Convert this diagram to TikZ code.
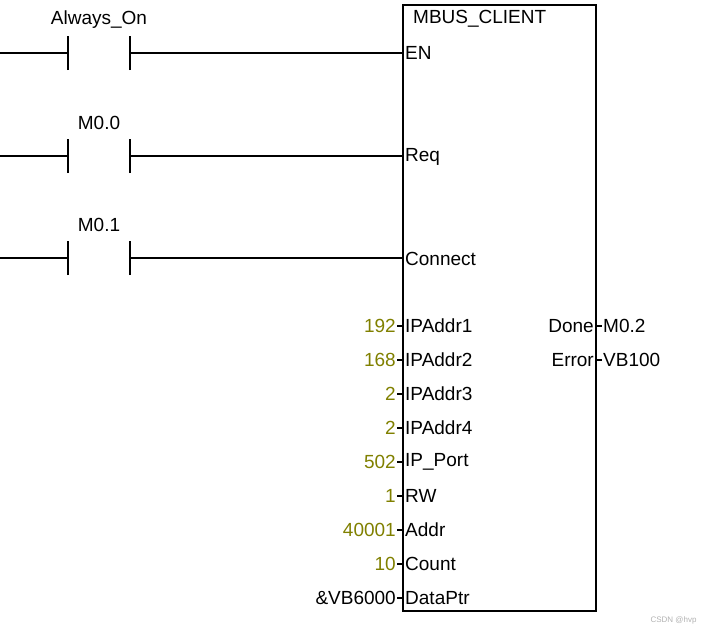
\documentclass[tikz,border=0pt]{standalone}
\usepackage{fontspec}
\setmainfont{Liberation Sans}
\definecolor{olive}{rgb}{0.5,0.5,0.0}
\tikzset{
  wire/.style={line width=1.5pt},
  pin/.style={font=\fontsize{19}{19}\selectfont, inner sep=1pt},
  val/.style={pin, text=olive, anchor=east},
  lbl/.style={font=\fontsize{19}{19}\selectfont, inner sep=0pt},
}
\begin{document}
\begin{tikzpicture}[x=1pt,y=-1pt]
  \useasboundingbox (0,0) rectangle (706,633);
  % block
  \draw [wire] (403,5) -- (596,5) -- (596,611) -- (403,611) -- cycle;
  \node [lbl, anchor=west] (title) at (413,19) {MBUS\_CLIENT};
  % contacts on the three rungs
  \foreach \y/\name/\txt in {53/en/Always\_On, 156/req/M0.0, 258/con/M0.1} {
    \coordinate (\name L) at (0,\y);
    \coordinate (\name A) at (68,\y);
    \coordinate (\name B) at (130,\y);
    \coordinate (\name R) at (403,\y);
    \draw [wire] (\name L) -- (\name A);
    \draw [wire] (\name B) -- (\name R);
    \draw [wire] ([yshift=-17]\name A) -- ([yshift=17]\name A);
    \draw [wire] ([yshift=-17]\name B) -- ([yshift=17]\name B);
    \node [lbl] at (99,\y-33) {\txt};
  }
  \node [pin, anchor=west] (pEN) at (404,53) {EN};
  \node [pin, anchor=west] (pReq) at (404,157) {Req};
  \node [pin, anchor=west] (pCon) at (404,259) {Connect};
  % input parameters
  \foreach \y/\v/\p [count=\i] in {326/192/IPAddr1, 360/168/IPAddr2, 394/2/IPAddr3,
      428/2/IPAddr4, 462/502/IP\_Port, 496/1/RW, 530/40001/Addr, 564/10/Count} {
    \coordinate (s\i) at (397,\y);
    \draw [wire] (s\i) -- (403,\y);
    \node [pin, anchor=west] (in\i) at (404,\y) {\p};
    \node [val] (v\i) at (s\i) {\v};
  }
  \coordinate (s9) at (397,598);
  \draw [wire] (s9) -- (403,598);
  \node [pin, anchor=west] (in9) at (404,598) {DataPtr};
  \node [pin, anchor=east] (v9) at (s9) {\&VB6000};
  % outputs
  \foreach \y/\p/\v [count=\i] in {326/Done/M0.2, 360/Error/VB100} {
    \coordinate (o\i) at (602,\y);
    \draw [wire] (596,\y) -- (o\i);
    \node [pin, anchor=east] (out\i) at (595,\y) {\p};
    \node [pin, anchor=west] (ov\i) at (o\i) {\v};
  }
  \node [font=\fontsize{8}{8}\selectfont, text=gray!60, anchor=east] (mark) at (700,620) {CSDN @hvp};
\end{tikzpicture}
\end{document}
